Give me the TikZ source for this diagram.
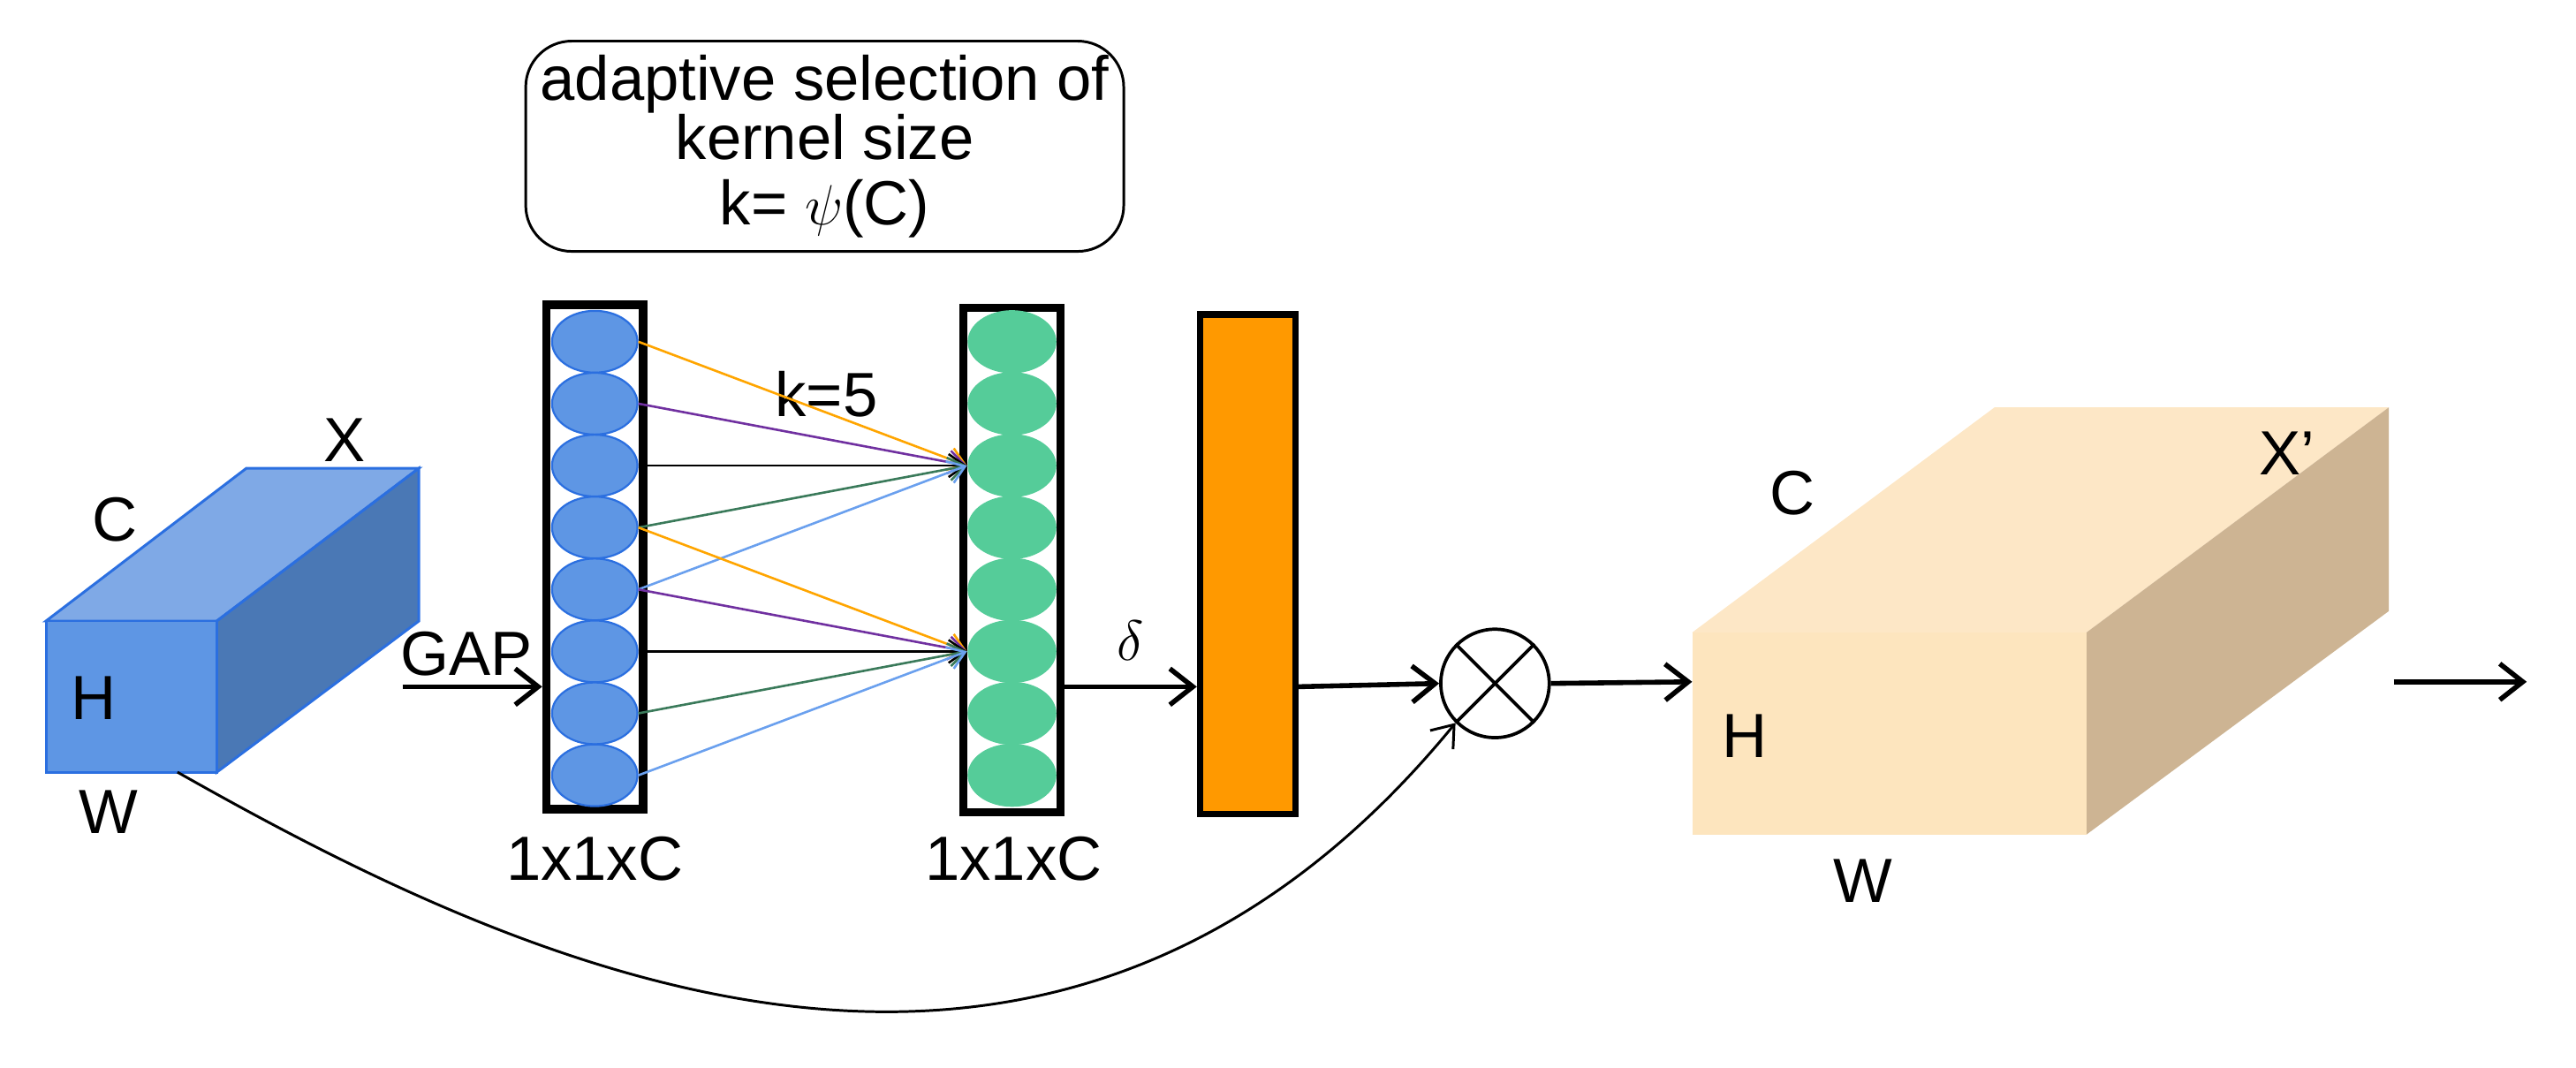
\documentclass[tikz,border=0pt]{standalone}
\usepackage{fontspec}
\setmainfont{Liberation Sans}
\usetikzlibrary{arrows.meta,shapes.geometric}
\definecolor{bfront}{HTML}{5E96E4}
\definecolor{btop}{HTML}{7FA9E6}
\definecolor{bside}{HTML}{4A78B5}
\definecolor{bedge}{HTML}{2B6FE0}
\definecolor{yfront}{HTML}{FDE5BE}
\definecolor{ytop}{HTML}{FDE7C6}
\definecolor{yside}{HTML}{CDB493}
\definecolor{gcirc}{HTML}{55CC99}
\definecolor{obar}{HTML}{FF9900}
\definecolor{kor}{HTML}{FFA500}
\definecolor{kpu}{HTML}{7030A0}
\definecolor{kgr}{HTML}{3A7A5A}
\definecolor{kbl}{HTML}{6AA0EE}
\begin{document}
\begin{tikzpicture}[x=0.5pt,y=-0.5pt,
  lab/.style={font=\fontsize{19}{22}\selectfont,inner sep=0pt},
  col/.style={draw=black,line width=2.5pt,minimum width=29.5pt,minimum height=153.5pt,inner sep=0pt},
  bc/.style={ellipse,fill=bfront,draw=bedge,line width=0.6pt,minimum width=26pt,minimum height=18.8pt,inner sep=0pt},
  gc/.style={ellipse,fill=gcirc,minimum width=27pt,minimum height=19.2pt,inner sep=0pt},
  arr/.style={line width=1.5pt,-{Straight Barb[length=7pt,width=11pt,line width=1.5pt]}},
  kl/.style={line width=0.7pt,-{Straight Barb[length=5pt,width=7pt]}}]
\useasboundingbox (0,0) rectangle (1568,650);
% input cube
\filldraw[fill=btop,draw=bedge,line width=0.8pt] (28,378)--(150,285)--(255,285)--(132,378)--cycle;
\filldraw[fill=bside,draw=bedge,line width=0.8pt] (132,378)--(255,285)--(255,378)--(132,470)--cycle;
\filldraw[fill=bfront,draw=bedge,line width=0.8pt] (28,378) rectangle (132,470);
\coordinate (xout) at (108,470);
\node[lab] (tC) at (70,316) {C};
\node[lab] (tX) at (210,268) {X};
\node[lab] (tH) at (57,425) {H};
\node[lab] (tW) at (66,494) {W};
\node[lab] (tgap) at (284,398) {GAP};
\coordinate (gaps) at (245,418);
% columns
\node[col] (lcol) at (362,339) {};
\node[col] (rcol) at (616,341) {};
\foreach \i in {1,...,8}{
  \node[bc] (l\i) at (362,{208+(\i-1)*37.7}) {};
  \node[gc] (r\i) at (616,{208+(\i-1)*37.7}) {};
}
\node[lab] (t1) at (362,523) {1x1xC};
\node[lab] (t2) at (617,523) {1x1xC};
\node[lab] (tk) at (503,240) {k=5};
% kernel connections
\draw[kl,kor] (l1.east) -- (r3.west);
\draw[kl,kpu] (l2.east) -- (r3.west);
\draw[kl,black] (l3.east) -- (r3.west);
\draw[kl,kgr] (l4.east) -- (r3.west);
\draw[kl,kbl] (l5.east) -- (r3.west);
\draw[kl,kor] (l4.east) -- (r6.west);
\draw[kl,kpu] (l5.east) -- (r6.west);
\draw[kl,black] (l6.east) -- (r6.west);
\draw[kl,kgr] (l7.east) -- (r6.west);
\draw[kl,kbl] (l8.east) -- (r6.west);
% box
\node[draw,rounded corners=14pt,line width=0.8pt,minimum width=182pt,minimum height=64pt,
  align=center,font=\fontsize{19}{19}\selectfont] (box) at (502,89)
  {adaptive selection of\\[-1pt] kernel size\\[1pt] k= $\psi$(C)};
% orange bar
\node[draw,line width=2pt,fill=obar,minimum width=29pt,minimum height=152pt,inner sep=0pt] (bar) at (759.5,343.5) {};
\node[lab] (td) at (688,390) {$\delta$};
% otimes
\node[draw,circle,line width=1pt,minimum size=33pt,inner sep=0pt] (mul) at (910,416) {};
\draw[line width=1pt] (mul.north west)--(mul.south east) (mul.north east)--(mul.south west);
% output cube
\fill[ytop] (1030,385)--(1214,248)--(1454,248)--(1270,385)--cycle;
\fill[yside] (1270,385)--(1454,248)--(1454,372)--(1270,508)--cycle;
\fill[yfront] (1030,385) rectangle (1270,508);
\coordinate (ycube) at (1030,415);
\node[lab] (tX2) at (1392,276) {X’};
\node[lab] (tC2) at (1091,300) {C};
\node[lab] (tH2) at (1062,448) {H};
\node[lab] (tW2) at (1134,536) {W};
\coordinate (os) at (1457,415);
\coordinate (oe) at (1538,415);
% arrows
\draw[arr] (gaps) -- (gaps -| lcol.west);
\draw[arr] (rcol.east |- 0,418) -- (bar.west |- 0,418);
\draw[arr] (bar.east |- 0,418) -- (mul.west);
\draw[arr] (mul.east) -- (ycube);
\draw[arr] (os) -- (oe);
\draw[line width=0.8pt,-{Straight Barb[length=6pt,width=9pt]}] (xout) .. controls (320,590) and (640,740) .. (mul.south west);
\end{tikzpicture}
\end{document}
